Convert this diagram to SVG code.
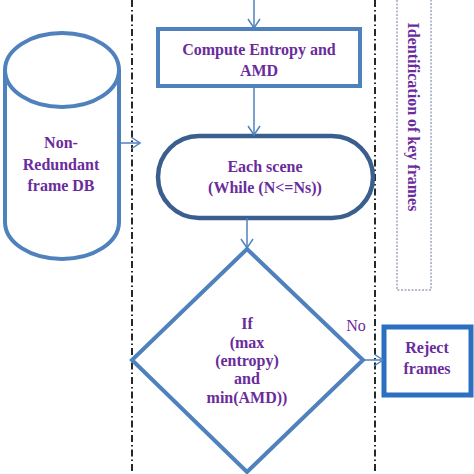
<svg xmlns="http://www.w3.org/2000/svg" width="474" height="474" viewBox="0 0 474 474">
<style>
.t{font-family:"Liberation Serif","Times New Roman",serif;font-weight:bold;font-size:16px;fill:#6a2c9c;text-anchor:middle}
.n{font-family:"Liberation Serif","Times New Roman",serif;font-size:16px;fill:#6a2c9c;text-anchor:middle}
.sh{fill:#fff;stroke:#4f81bd;stroke-width:4}
.ln{fill:none;stroke:#4f81bd;stroke-width:1.5}
.dd{fill:none;stroke:#111;stroke-width:1.8;stroke-dasharray:7 3 1.5 3}
</style>
<defs>
<marker id="ah" markerUnits="userSpaceOnUse" markerWidth="16" markerHeight="16" refX="10" refY="7" orient="auto">
<path d="M1,1 L10,7 L1,13" fill="none" stroke="#4f81bd" stroke-width="1.5"/>
</marker>
</defs>
<rect width="474" height="474" fill="#fff"/>
<g id="lanes">
<line class="dd" x1="132" y1="0" x2="132" y2="474"/>
<line class="dd" x1="375" y1="0" x2="375" y2="474"/>
</g>
<g id="key-frames-label">
<rect x="397" y="-5" width="34" height="295" fill="none" stroke="#6b7a99" stroke-width="1" stroke-dasharray="2 1.5"/>
<text class="t" transform="translate(408,117) rotate(90)">Identification of key frames</text>
</g>
<g id="db">
<path class="sh" d="M5,70 L5,222 A57,37 0 0 0 119,222 L119,70 A57,37 0 0 0 5,70 Z"/>
<path class="sh" fill="none" d="M5,70 A57,37 0 0 0 119,70"/>
<text class="t" x="61" y="148">Non-</text>
<text class="t" x="61" y="170">Redundant</text>
<text class="t" x="61" y="191">frame DB</text>
</g>
<g id="compute">
<rect class="sh" x="158" y="29" width="202" height="57"/>
<text class="t" x="259" y="55">Compute Entropy and</text>
<text class="t" x="259" y="76">AMD</text>
</g>
<g id="scene">
<rect x="158" y="136" width="215" height="82" rx="41" ry="41" fill="#fff" stroke="#3a5f8f" stroke-width="4.5"/>
<text class="t" x="265" y="172">Each scene</text>
<text class="t" x="265" y="193">(While (N&lt;=Ns))</text>
</g>
<g id="decision">
<path class="sh" d="M247,249 L363,360 L247,472 L132,360 Z"/>
<text class="t" x="247" y="329">If</text>
<text class="t" x="247" y="348">(max</text>
<text class="t" x="247" y="366">(entropy)</text>
<text class="t" x="247" y="384">and</text>
<text class="t" x="247" y="403">min(AMD))</text>
</g>
<g id="reject">
<rect x="384" y="327" width="87" height="68" fill="#fff" stroke="#2a6fc0" stroke-width="5"/>
<text class="t" x="427" y="353">Reject</text>
<text class="t" x="427" y="374">frames</text>
</g>
<g id="connectors">
<line class="ln" x1="254" y1="0" x2="254" y2="28" marker-end="url(#ah)"/>
<line class="ln" x1="254" y1="86" x2="254" y2="135" marker-end="url(#ah)"/>
<line class="ln" x1="119" y1="143" x2="140" y2="143" marker-end="url(#ah)"/>
<line class="ln" x1="247" y1="218" x2="247" y2="248" marker-end="url(#ah)"/>
<line class="ln" x1="363" y1="360" x2="383" y2="360" marker-end="url(#ah)"/>
<text class="n" x="356" y="331">No</text>
</g>
</svg>
